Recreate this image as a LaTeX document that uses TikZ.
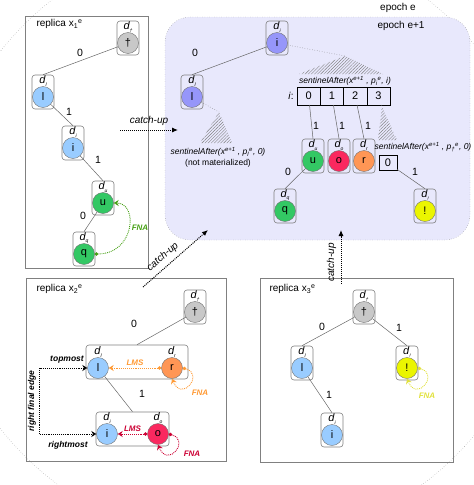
\documentclass[tikz,border=0pt]{standalone}
\usepackage{fontspec}
\setmainfont{Liberation Sans}
\usetikzlibrary{arrows.meta, patterns.meta, positioning}

\definecolor{lav}{RGB}{232,232,252}
\definecolor{tgrey}{RGB}{200,200,200}
\definecolor{lblue}{RGB}{153,204,255}
\definecolor{pblue}{RGB}{150,150,250}
\definecolor{dgreen}{RGB}{51,200,100}
\definecolor{dred}{RGB}{250,40,95}
\definecolor{dorange}{RGB}{255,150,85}
\definecolor{dyellow}{RGB}{235,245,0}
\definecolor{fnagreen}{RGB}{70,160,20}
\definecolor{lmsorange}{RGB}{255,153,51}
\definecolor{lmsred}{RGB}{204,0,51}
\definecolor{fnayellow}{RGB}{225,225,60}

\tikzstyle{dbox} = [draw=gray, rounded corners=3pt, minimum width=22pt, minimum height=34pt, inner sep=0pt, line width=0.6pt]
\tikzstyle{dcirc} = [draw=black!55, circle, minimum size=21pt, inner sep=0pt, font=\fontsize{11}{11}\selectfont]
\tikzstyle{dlabel} = [inner sep=0pt, font=\itshape\fontsize{11}{11}\selectfont]
\tikzstyle{link} = [draw=black!60, line width=0.5pt]
\tikzstyle{num} = [inner sep=0pt, font=\fontsize{10.5}{10.5}\selectfont]
\tikzstyle{repbox} = [draw=gray, line width=0.9pt, inner sep=0pt]
\tikzstyle{catch} = [densely dotted, line width=1pt, -{Latex[length=6pt,width=5pt]}]
\tikzstyle{ptr} = [densely dotted, line width=0.9pt, {Circle[length=3.5pt]}-{Stealth[open,length=5pt,width=6pt]}]
\tikzstyle{tag} = [inner sep=1pt, font=\bfseries\itshape\fontsize{8}{8}\selectfont]
\tikzstyle{hatch} = [pattern={Lines[angle=45,distance=2.2pt,line width=0.4pt]}, pattern color=gray]
\tikzstyle{sentinel} = [dotted, draw=gray, line width=0.5pt]
\tikzstyle{sentfont} = [inner sep=0pt, font=\itshape\fontsize{8.5}{8.5}\selectfont]
\tikzstyle{cell} = [draw, minimum width=23.3pt, minimum height=18pt, inner sep=0pt, outer sep=0pt, font=\fontsize{11}{11}\selectfont]

% circle with its d label, and the same inside a box
\newcommand{\dball}[5]{%
  \node[dcirc, fill=#4] (#1c) at (#2,#3) {#5};
  \node[dlabel] at (#2,#3-16) {d\raisebox{-2.5pt}{\fontsize{5}{5}\selectfont #5}};}
\newcommand{\dnode}[5]{\dball{#1}{#2}{#3}{#4}{#5}\node[dbox] (#1) at (#2,#3-5) {};}
\newcommand{\sent}[2]{sentinelAfter(x\textsuperscript{e+1} , p\textsubscript{#1}\textsuperscript{e}, #2)}

\begin{document}
\begin{tikzpicture}[x=1pt, y=-1pt, font=\fontsize{10}{10}\selectfont]
        \useasboundingbox (0,0) rectangle (474,485);
        % epoch e
        \begin{scope}
          \clip (0,0) rectangle (474,485);
          \draw[dotted, gray] (240,240) circle[radius=305pt];
        \end{scope}
        \node at (398,8) {epoch e};
        % epoch e+1
        \node[draw=gray, dotted, fill=lav, rounded corners=25pt, minimum width=305pt, minimum height=223pt, inner sep=0pt] (next) at (317.5,128.5) {};
        \node at (401,26) {epoch e+1};

        % replica x1
        \node[repbox, minimum width=123pt, minimum height=252pt] (rep1) at (86.5,142) {};
        \node[anchor=west] at (33,24) {replica x\textsubscript{1}\textsuperscript{e}};
        \dnode{t1}{128}{43}{tgrey}{†}
        \dnode{l1}{43}{97}{lblue}{l}
        \dnode{i1}{73}{148}{lblue}{i}
        \dnode{u1}{103}{203}{dgreen}{u}
        \dnode{q1}{84}{254}{dgreen}{q}
        \draw[link] (t1c) -- (l1.north);
        \draw[link] (l1c) -- (i1.north);
        \draw[link] (i1c) -- (u1.north);
        \draw[link] (u1c) -- (q1.north);
        \node[num] at (80,53) {0};
        \node[num] at (69,112) {1};
        \node[num] at (98,160) {1};
        \node[num] at (83,216) {0};
        \draw[ptr, fnagreen] (q1c.east) .. controls +(40,0) and +(25,0) .. (u1c.east);
        \node[tag, fnagreen] at (140,228) {FNA};

        % replica x2
        \node[repbox, minimum width=200pt, minimum height=183pt] (rep2) at (126,369.5) {};
        \node[anchor=west] at (33,289) {replica x\textsubscript{2}\textsuperscript{e}};
        \dnode{t2}{195}{312}{tgrey}{†}
        \node[dbox, minimum width=102pt] (lr2) at (137,362) {};
        \dball{l2}{98}{368}{lblue}{l}
        \dball{r2}{172}{368}{dorange}{r}
        \node[dbox, minimum width=73pt] (io2) at (132.5,429) {};
        \dball{i2}{107}{434}{lblue}{i}
        \dball{o2}{158}{434}{dred}{o}
        \draw[link] (t2c) -- (lr2.north);
        \draw[link] (l2c) -- (io2.north);
        \node[num] at (134,324) {0};
        \node[num] at (142,394) {1};
        \draw[ptr, lmsorange] (r2c.west) -- node[tag, above=1pt] {LMS} (l2c.east);
        \draw[ptr, lmsorange] (r2c.east) .. controls +(22,6) and +(10,24) .. (r2c.south);
        \node[tag, lmsorange] at (200,393) {FNA};
        \draw[ptr, lmsred] (o2c.west) -- node[tag, above=1pt] {LMS} (i2c.east);
        \draw[ptr, lmsred] (o2c.east) .. controls +(22,6) and +(10,24) .. (o2c.south);
        \node[tag, lmsred] at (192,454) {FNA};
        \coordinate (tm) at (39,368);
        \coordinate (rm) at (39,434);
        \draw[densely dotted, line width=0.9pt, {Stealth[open,length=5pt,width=6pt]}-{Stealth[open,length=5pt,width=6pt]}] (l2c.west) -- (tm) -- (rm) -- (i2c.west);
        \node[tag, font=\bfseries\itshape\fontsize{8.5}{8.5}\selectfont] at (67,360) {topmost};
        \node[tag, font=\bfseries\itshape\fontsize{8.5}{8.5}\selectfont] at (68,445) {rightmost};
        \node[tag, rotate=90, font=\bfseries\itshape\fontsize{8.5}{8.5}\selectfont] at (32,401) {right final  edge};

        % replica x3
        \node[repbox, minimum width=193pt, minimum height=184pt] (rep3) at (356.5,370) {};
        \node[anchor=west] at (266,289) {replica x\textsubscript{3}\textsuperscript{e}};
        \dnode{t3}{364}{312}{tgrey}{†}
        \dnode{l3}{302}{368}{lblue}{l}
        \dnode{e3}{407}{368}{dyellow}{!}
        \dnode{i3}{332}{435}{lblue}{i}
        \draw[link] (t3c) -- (l3.north);
        \draw[link] (t3c) -- (e3.north);
        \draw[link] (l3c) -- (i3.north);
        \node[num] at (322,327) {0};
        \node[num] at (399,328) {1};
        \node[num] at (329,395) {1};
        \draw[ptr, fnayellow] (e3c.east) .. controls +(22,6) and +(10,24) .. (e3c.south);
        \node[tag, fnayellow] at (427,396) {FNA};

        % epoch e+1 tree
        \dnode{ie}{277}{43}{pblue}{i}
        \dnode{le}{192}{97}{pblue}{l}
        \draw[link] (iec) -- (le.north);
        \node[num] at (195,53) {0};
        \coordinate (tri1) at (345,56);
        \fill[hatch] (tri1) -- (299,74) -- (383,74) -- cycle;
        \draw[sentinel] (iec) -- (tri1);
        \node[sentfont] at (345,81) {\sent{i}{i}};
        \coordinate (tri2) at (219,112);
        \fill[hatch] (tri2) -- (200,143) -- (232,143) -- cycle;
        \draw[sentinel] (lec) -- (tri2);
        \node[sentfont] at (218,152) {\sent{l}{0}};
        \node[sentfont, font=\fontsize{8.5}{8.5}\selectfont] at (218,163) {(not materialized)};
        \node at (291,96) {\textit{i}:};
        \node[cell] (c0) at (308.6,96) {0};
        \node[cell, right=0pt of c0] (c1) {1};
        \node[cell, right=0pt of c1] (c2) {2};
        \node[cell, right=0pt of c2] (c3) {3};
        \dnode{ue}{313}{161}{dgreen}{u}
        \dnode{oe}{339}{161}{dred}{o}
        \dnode{re}{364}{161}{dorange}{r}
        \draw[link] (c0) -- (ue.north);
        \draw[link] (c1) -- (oe.north);
        \draw[link] (c2) -- (re.north);
        \node[num] at (316,126) {1};
        \node[num] at (342,126) {1};
        \node[num] at (368,126) {1};
        \coordinate (tri3) at (382,107);
        \fill[hatch] (tri3) -- (378,140) -- (397,140) -- cycle;
        \draw[sentinel] (c3) -- (tri3);
        \node[sentfont] at (423,147) {\sent{†}{0}};
        \node[cell, minimum width=18pt, minimum height=15pt] (zero) at (388,163) {0};
        \dnode{qe}{285}{211}{dgreen}{q}
        \dnode{ee}{425}{211}{dyellow}{!}
        \draw[link] (uec) -- (qe.north);
        \draw[link] (zero) -- (ee.north);
        \node[num] at (288,172) {0};
        \node[num] at (415,172) {1};

        % catch-up arrows
        \coordinate (cu1) at (120,130);
        \coordinate (cu1e) at (178,130);
        \coordinate (cu2) at (143,287);
        \coordinate (cu2e) at (208,230);
        \coordinate (cu3) at (341,284);
        \coordinate (cu3e) at (341,230);
        \draw[catch] (cu1) -- node[above=1pt, font=\itshape\fontsize{10}{10}\selectfont] {catch-up} (cu1e);
        \draw[catch] (cu2) -- node[above=1pt, sloped, pos=0.4, font=\itshape\fontsize{10}{10}\selectfont] {catch-up} (cu2e);
        \draw[catch] (cu3) -- node[above=1pt, sloped, pos=0.4, font=\itshape\fontsize{10}{10}\selectfont] {catch-up} (cu3e);
\end{tikzpicture}
\end{document}
